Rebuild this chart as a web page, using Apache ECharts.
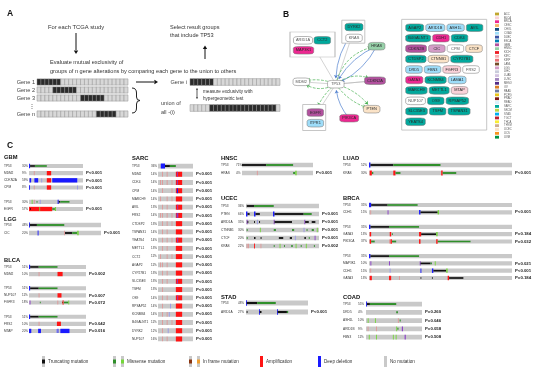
<!DOCTYPE html>
<html><head><meta charset="utf-8">
<script src="https://cdn.jsdelivr.net/npm/echarts@6/dist/echarts.min.js"></script>
<style>html,body{margin:0;padding:0;background:#fff}#c{width:553px;height:375px}</style>
</head><body><div id="c"></div>
<script>
// ================= DATA =================
// Panel A : schematic cells (1 = altered)
const cellCount = 23;
const aGenes = ['Gene 1', 'Gene 2', 'Gene 3', '\u22EE', 'Gene n'];
const aCells = ['11111100000000000000000', '00001111110000000000000', '00000000000111111000000', '', '00000000000000011111000'];
const bGenes = ['Gene i', '', '', 'union'];
const bCells = ['11111100000000000000000', '', '', '00000111111111111111110'];

// Panel B : network + gene box + cancer legend
const cancerTypes = ['ACC','BLCA','BRCA','CESC','CHOL','COAD','DLBC','ESCA','GBM','HNSC','KICH','KIRC','KIRP','LAML','LGG','LIHC','LUAD','LUSC','MESO','OV','PAAD','PCPG','PRAD','READ','SARC','SKCM','STAD','TGCT','THCA','THYM','UCEC','UCS','UVM'];
const cancerColors = ['#C1A72F','#FAD2D9','#ED2891','#F6B667','#104A7F','#9EDDF9','#3953A4','#007EB5','#B2509E','#97D1A9','#ED1C24','#F8AFB3','#EA7075','#754C29','#D49DC7','#CACCDB','#D3C3E0','#A084BD','#542C88','#D97D25','#6E7BA2','#E8C51D','#7E1918','#DAF1FC','#00A99D','#BBD642','#00AEEF','#BE1E2D','#F9ED32','#CEAC8F','#FBE3C7','#F89420','#009444'];
const netGenes  = ['TP53','MDM2','CDKN2A','PTEN','PIK3CA','HRAS','ARID1A','CCT2','MAP3K1','DYRK2','KRAS','EGFR','ITPR1'];
const netCancer = ['',    '',    'GBM',   'UCEC','BRCA',  'HNSC','',      'SARC','BRCA',  'SARC', '',    'GBM', 'COAD'];
const netEdges = [
  ['TP53','g1','gray'],['TP53','g2','gray'],['TP53','g3','gray'],['TP53','MDM2','gray'],['TP53','CDKN2A','gray'],['TP53','CDKN2A','gray'],
  ['g2','TP53','blue'],['HRAS','TP53','blue'],['HRAS','TP53','blue'],['PIK3CA','TP53','blue'],
  ['TP53','HRAS','green'],['TP53','MDM2','green'],['TP53','MDM2','green'],['TP53','CDKN2A','green'],['TP53','PTEN','green'],['TP53','PTEN','green'],['TP53','g3','green']
];
const boxRows = [['AGAP2','ARID1B','ASH1L','AVIL'],['B4GALNT1','CDH1','CDK4'],['CDKN2B','CIC','CPM','CTCF'],['CTDSP2','CTNNB1','CYP27B1'],['DRD5','FBN3','FGFR3','FRS2'],['GATA3','KCNMB4','LAMA1'],['MARCH9','METTL1','MTAP'],['NUP107','OS9','RPSAP52'],['SLC35E3','TSFM','TSPAN31'],['YEATS4']];
const boxCancer = [['SARC','COAD','COAD','SARC'],['SARC','BRCA','SARC'],['GBM','LGG','','UCEC'],['SARC','UCEC','SARC'],['COAD','COAD','BLCA',''],['BRCA','SARC','COAD'],['SARC','SARC','BLCA'],['','SARC','SARC'],['SARC','SARC','SARC'],['SARC']];

// Panel C : tracks. marks = [type, start%, end%]
const markTypes = ['bg','T','M','m','I','i','A','a','D','d','P'];

const gbmGenes = ['TP53','MDM2','CDKN2A','CPM','','TP53','EGFR'];
const gbmPct   = ['30%','9%','59%','8%','','30%','57%'];
const gbmP     = ['','P<0.001','P<0.001','P<0.001','','','P<0.001'];
const gbmMarks = [
  [['D',0,2],['T',2,11],['M',11,33]],
  [['a',9,9],['A',33,41]],
  [['D',1,4],['D',10,17],['d',23,23],['A',33,41],['D',43,89],['d',89,89]],
  [['D',0,1],['a',9,9],['A',33,41],['d',89,89]],
  null,
  [['m',5,5],['a',9,9],['M',14,14],['d',20,20],['D',53,55],['T',55,58],['M',58,75]],
  [['A',0,43],['T',2,3],['m',19,20],['M',43,48],['m',48,50]]
];
const lggGenes = ['TP53','CIC'];
const lggPct   = ['48%','20%'];
const lggP     = ['','P<0.001'];
const lggMarks = [
  [['D',0,1],['T',1,11],['M',11,49]],
  [['D',12,13],['a',49,49],['T',50,60],['M',60,67],['m',67,69]]
];
const blcaGenes = ['TP53','MDM2','','TP53','NUP107','FGFR3','','TP53','FRS2','MTAP'];
const blcaPct   = ['51%','10%','','51%','11%','18%','','51%','10%','20%'];
const blcaP     = ['','P=0.002','','','P=0.007','P=0.072','','','P=0.042','P=0.016'];
const blcaMarks = [
  [['D',0,2],['T',2,17],['M',17,50]],
  [['a',17,17],['A',50,59]],
  null,
  [['D',0,2],['T',2,17],['M',17,50]],
  [['a',17,17],['A',50,57]],
  [['P',1,1],['M',19,19],['a',50,50],['I',58,59],['A',59,60],['M',61,69],['m',69,70]],
  null,
  [['D',0,2],['T',2,17],['M',17,50]],
  [['a',17,17],['A',49,56]],
  [['D',0,4],['D',16,21],['d',48,48],['D',50,51],['D',55,71]]
];
const sarcGenes = ['TP53','MDM2','CDK4','CPM','MARCH9','AVIL','FRS2','CTDSP2','TSPAN31','YEATS4','METTL1','CCT2','AGAP2','CYP27B1','SLC35E3','TSFM','OS9','RPSAP52','KCNMB4','B4GALNT1','DYRK2','NUP107'];
const sarcPct   = ['36%','14%','14%','14%','14%','13%','14%','13%','14%','14%','13%','11%','11%','13%','13%','13%','14%','14%','14%','11%','12%','16%'];
const sarcP     = ['','P<0.001','P<0.001','P<0.001','P<0.001','P<0.001','P<0.001','P<0.001','P<0.001','P<0.001','P<0.001','P<0.001','P<0.001','P<0.001','P<0.001','P<0.001','P<0.001','P<0.001','P<0.001','P<0.001','P<0.001','P<0.001'];
const sarcMarks = [
  [['D',8,20],['T',20,34],['M',34,51]],
  [['a',12,12],['a',25,25],['A',51,69],['P',54,55]],
  [['a',6,6],['a',12,12],['a',25,25],['a',39,39],['A',51,69],['P',54,56]],
  [['a',12,12],['a',39,39],['A',51,69],['D',54,57]],
  [['a',6,6],['a',25,25],['a',39,39],['A',51,69]],
  [['a',12,12],['a',25,25],['A',51,69],['P',55,56]],
  [['a',6,6],['a',12,12],['a',25,25],['a',39,39],['A',51,69],['P',53,58]],
  [['a',12,12],['a',25,25],['a',39,39],['A',51,69]],
  [['a',12,12],['a',25,25],['A',51,69]],
  [['a',12,12],['a',25,25],['a',39,39],['A',51,69],['P',55,56]],
  [['a',12,12],['a',25,25],['A',51,69]],
  [['a',6,6],['a',25,25],['a',39,39],['A',51,69]],
  [['a',6,6],['a',12,12],['a',25,25],['A',51,69]],
  [['a',12,12],['a',25,25],['A',51,69]],
  [['a',12,12],['a',25,25],['A',51,69],['P',54,56]],
  [['a',12,12],['A',51,69]],
  [['a',12,12],['a',25,25],['A',51,69],['P',55,57]],
  [['a',12,12],['d',35,35],['A',51,69]],
  [['a',12,12],['a',25,25],['d',31,31],['A',51,69]],
  [['a',12,12],['a',25,25],['a',39,39],['A',51,69]],
  [['a',12,12],['d',28,28],['A',51,69]],
  [['a',12,12],['a',25,25],['A',51,69]]
];
const hnscGenes = ['TP53','HRAS'];
const hnscPct   = ['71%','4%'];
const hnscP     = ['','P<0.001'];
const hnscMarks = [
  [['T',0,34],['M',34,72]],
  [['a',21,21],['M',72,75],['m',75,77]]
];
const ucecGenes = ['TP53','PTEN','ARID1A','CTNNB1','CTCF','KRAS'];
const ucecPct   = ['36%','66%','35%','30%','20%','22%'];
const ucecP     = ['','P<0.001','P<0.001','P<0.001','P<0.001','P=0.002'];
const ucecMarks = [
  [['T',1,11],['M',11,38]],
  [['D',0,2],['T',2,5],['D',11,13],['T',13,19],['D',37,39],['T',39,79],['M',79,90]],
  [['P',1,1],['T',2,3],['T',11,12],['d',15,15],['T',18,19],['P',38,38],['T',39,63],['P',80,80],['T',81,86],['T',90,95]],
  [['M',1,2],['m',19,19],['M',38,41],['M',63,66],['d',79,79],['M',83,84],['M',90,93],['m',97,97]],
  [['M',1,2],['T',11,13],['T',20,21],['T',45,51],['T',60,63],['d',67,67],['T',80,82],['M',86,87],['P',94,94]],
  [['a',1,1],['a',3,3],['A',11,12],['a',20,20],['M',38,39],['m',46,46],['M',52,53],['M',62,64],['m',68,68],['M',75,76],['m',82,82],['M',93,94]]
];
const stadGenes = ['TP53','ARID1A'];
const stadPct   = ['48%','27%'];
const stadP     = ['','P<0.001'];
const stadMarks = [
  [['D',0,1],['T',1,18],['M',18,48]],
  [['T',1,2],['D',21,22],['T',22,25],['D',50,51],['T',51,66],['M',66,68]]
];
const luadGenes = ['TP53','KRAS'];
const luadPct   = ['52%','30%'];
const luadP     = ['','P<0.001'];
const luadMarks = [
  [['D',0,1],['T',1,17],['M',17,50]],
  [['A',0.5,2],['M',2,3],['A',17,18.5],['M',18.5,22],['A',50.5,51.5],['M',51.5,61]]
];
const brcaGenes = ['TP53','CDH1','','TP53','GATA3','PIK3CA','','TP53','MAP3K1','CDH1','GATA3'];
const brcaPct   = ['35%','15%','','35%','13%','37%','','35%','10%','15%','13%'];
const brcaP     = ['','P<0.001','','','P=0.184','P=0.032','','','P=0.021','P<0.001','P=0.184'];
const brcaMarks = [
  [['D',0,1.5],['T',1.5,13],['M',13,34]],
  [['a',1,1],['P',13,13.5],['D',35,36],['T',36,48],['m',48,49]],
  null,
  [['D',0,1],['T',1,14],['M',14,35]],
  [['A',0.5,1.5],['A',14.5,15.5],['M',16,16.5],['A',35,36.5],['T',36.5,47],['m',47,48]],
  [['A',0.5,1.5],['M',1.5,4],['a',14,14],['A',15,16],['M',16,19],['A',35,36],['A',47,48],['M',48,71]],
  null,
  [['D',0,1],['T',1,14],['M',14,35]],
  [['P',1,1.5],['P',14,14.5],['P',35.5,36],['T',36,43],['M',43,44],['m',46,46.5]],
  [['a',1,1],['d',14.5,14.5],['D',36,36.5],['D',44,45],['T',45,54],['m',54,55]],
  [['A',0.5,2],['A',14,15.5],['a',21,21],['T',36,36.5],['T',44,44.5],['A',55,56],['T',56,66]]
];
const coadGenes = ['TP53','DRD5','ASH1L','ARID1B','FBN3'];
const coadPct   = ['55%','4%','10%','9%','11%'];
const coadP     = ['','P=0.260','P=0.046','P=0.058','P=0.508'];
const coadMarks = [
  [['D',0,1.5],['T',1.5,7],['M',7,54]],
  [['M',54,57]],
  [['m',3,3],['m',16,16],['a',57,57],['M',60,62]],
  [['a',3,3],['a',18,18],['m',54,54],['M',56,58],['P',64,66]],
  [['m',5,5],['m',18,18],['m',48,48],['m',53,53],['P',69,71]]
];

// ================= BUILD =================
const F = 'Liberation Sans, Arial, sans-serif';
const markColor = {bg:'#c9c9c9', T:'#111111', M:'#2f8f2a', m:'#74d63a', I:'#8b3510', i:'#f0a030', A:'#ff1414', a:'#e58a8a', D:'#1a1aff', d:'#8c8cf0', P:'#8a3cc8'};
const grids = [], xAxes = [], yAxes = [], series = [], graphics = [];

function txt(x, y, s, size, opt) {
  return {type:'text', x:x, y:y, silent:true, z:10,
    style:Object.assign({text:s, fontSize:size, fontFamily:F, fill:'#333', verticalAlign:'middle', align:'left'}, opt || {})};
}
function seg(x1, y1, x2, y2, lw, c) {
  return {type:'line', silent:true, shape:{x1:x1, y1:y1, x2:x2, y2:y2}, style:{stroke:c || '#111', lineWidth:lw || 1}};
}
function curve(x1, y1, cx, cy, x2, y2) {
  return {type:'bezierCurve', silent:true, shape:{x1:x1, y1:y1, cpx1:cx, cpy1:cy, x2:x2, y2:y2}, style:{fill:null, stroke:'#222', lineWidth:1}};
}
function head(x, y, dir, s, c) {
  const pts = {down:[[x-s*0.6,y-s],[x+s*0.6,y-s],[x,y]], up:[[x-s*0.6,y+s],[x+s*0.6,y+s],[x,y]],
               right:[[x-s,y-s*0.6],[x-s,y+s*0.6],[x,y]]}[dir];
  return {type:'polygon', silent:true, shape:{points:pts}, style:{fill:c || '#111'}};
}

// ---- Panel A cells
function cellItem(params, api) {
  const p = api.coord([api.value(0), api.value(1)]);
  const s = api.size([1, 1]);
  const h = s[1] * 0.78;
  return {type:'rect', shape:{x:p[0] - s[0] / 2, y:p[1] - h / 2, width:s[0], height:h},
    style:{fill: api.value(2) ? '#2b2b2b' : '#d8d8d8', stroke:'#8c8c8c', lineWidth:0.45}};
}
function addCells(rows, cells, g, fmt) {
  const gi = grids.length;
  grids.push({left:g.left, top:g.top, width:g.width, height:g.height});
  xAxes.push({type:'category', gridIndex:gi, show:false, data:Array.from({length:cellCount}, (_, i) => String(i))});
  const yi = yAxes.length;
  yAxes.push({type:'category', gridIndex:gi, inverse:true, data:rows.map((_, i) => String(i)),
    axisLine:{show:false}, axisTick:{show:false}, splitLine:{show:false},
    axisLabel:{interval:0, margin:g.margin, fontSize:5.6, color:'#444', fontFamily:F, formatter:fmt,
      rich:{u:{fontSize:5.6, color:'#444', width:26, align:'left', lineHeight:8.5, fontFamily:F}}}});
  const data = [];
  cells.forEach((s, r) => { for (let c = 0; c < s.length; c++) data.push([c, r, +s[c]]); });
  series.push({type:'custom', xAxisIndex:gi, yAxisIndex:yi, renderItem:cellItem, data:data,
    encode:{x:0, y:1}, silent:true, clip:false, animation:false});
}
addCells(aGenes, aCells, {left:37, top:78, width:91, height:40, margin:2},
  (v, i) => aGenes[i]);
addCells(bGenes, bCells, {left:190, top:77.67, width:90, height:34.67, margin:3},
  (v, i) => i === 3 ? '{u|union of}\n{u|all -(i)}' : bGenes[i]);

// ---- Panel C tracks
function trackItem(params, api) {
  const t = markTypes[api.value(3)];
  const row = api.value(0);
  const p0 = api.coord([api.value(1), row]);
  const p1 = api.coord([api.value(2), row]);
  const band = api.size([0, 1])[1];
  const bh = band * 0.58;
  let h = bh, w = Math.max(p1[0] - p0[0], 0.9);
  if (t === 'T' || t === 'M' || t === 'I') h = bh * 0.4;
  if (t === 'a' || t === 'd') w = 0.7;
  if (t === 'A' || t === 'D') h = bh * 1.05;
  return {type:'rect', shape:{x:p0[0], y:p0[1] - h / 2, width:w, height:h}, style:{fill:markColor[t]}};
}
function addStudy(name, genes, pct, pv, marks, g) {
  const gi = grids.length;
  grids.push({left:g.left, top:g.top, width:g.width, height:g.height});
  xAxes.push({type:'value', gridIndex:gi, min:0, max:100, show:false});
  const cats = genes.map((_, i) => String(i));
  const yl = yAxes.length;
  yAxes.push({type:'category', gridIndex:gi, inverse:true, data:cats,
    axisLine:{show:false}, axisTick:{show:false}, splitLine:{show:false},
    axisLabel:{interval:0, margin:1, fontFamily:F,
      formatter:(v, i) => genes[i] ? '{g|' + genes[i] + '}{p|' + pct[i] + '}' : '',
      rich:{g:{width:g.gw, align:'left', fontSize:3.2, color:'#333', fontFamily:F},
            p:{width:g.pw, align:'left', fontSize:3.0, color:'#333', fontFamily:F}}}});
  yAxes.push({type:'category', gridIndex:gi, inverse:true, position:'right', data:cats,
    axisLine:{show:false}, axisTick:{show:false}, splitLine:{show:false},
    axisLabel:{interval:0, margin:3, fontSize:4.3, fontWeight:'bold', color:'#222', fontFamily:F,
      formatter:(v, i) => pv[i] || ''}});
  const data = [];
  marks.forEach((row, r) => {
    if (!row) return;
    data.push([r, 0, 100, 0]);
    row.forEach(m => data.push([r, m[1], m[2], markTypes.indexOf(m[0])]));
  });
  series.push({type:'custom', xAxisIndex:gi, yAxisIndex:yl, renderItem:trackItem, data:data,
    encode:{x:[1, 2], y:0}, silent:true, clip:false, animation:false});
  graphics.push(txt(g.lx, g.ly, name, 5.8, {fontWeight:'bold', fill:'#111'}));
}
addStudy('GBM',  gbmGenes,  gbmPct,  gbmP,  gbmMarks,  {left:29,  top:162.4, width:54,  height:50.2,  gw:18, pw:6, lx:4,   ly:157});
addStudy('LGG',  lggGenes,  lggPct,  lggP,  lggMarks,  {left:29,  top:221,   width:72,  height:16,    gw:18, pw:6, lx:4,   ly:219.5});
addStudy('BLCA', blcaGenes, blcaPct, blcaP, blcaMarks, {left:29,  top:263.4, width:57,  height:71.1,  gw:18, pw:6, lx:4,   ly:260});
addStudy('SARC', sarcGenes, sarcPct, sarcP, sarcMarks, {left:158, top:161.9, width:35,  height:181.2, gw:19, pw:6, lx:132, ly:158});
addStudy('HNSC', hnscGenes, hnscPct, hnscP, hnscMarks, {left:242, top:161,   width:71,  height:16,    gw:15, pw:5, lx:221, ly:158});
addStudy('UCEC', ucecGenes, ucecPct, ucecP, ucecMarks, {left:246, top:202,   width:73,  height:48,    gw:17, pw:7, lx:221, ly:198});
addStudy('STAD', stadGenes, stadPct, stadP, stadMarks, {left:246, top:298.5, width:62,  height:18,    gw:17, pw:7, lx:221, ly:297});
addStudy('LUAD', luadGenes, luadPct, luadP, luadMarks, {left:369, top:161,   width:143, height:16,    gw:18, pw:7, lx:343, ly:158});
addStudy('BRCA', brcaGenes, brcaPct, brcaP, brcaMarks, {left:369, top:201.35,width:143, height:80.3,  gw:18, pw:7, lx:343, ly:198});
addStudy('COAD', coadGenes, coadPct, coadP, coadMarks, {left:366, top:299.9, width:56,  height:41.25, gw:15, pw:7, lx:343, ly:297});

// ---- Panel B graph
const ctx = document.createElement('canvas').getContext('2d');
ctx.font = '3.9px ' + F;
function nodeW(n) { return Math.max(16.5, ctx.measureText(n).width + 5); }
function colorOf(c) { const i = cancerTypes.indexOf(c); return i < 0 ? '#ffffff' : cancerColors[i]; }
const netPos = {TP53:[335.8,84.2], MDM2:[301.3,81.8], CDKN2A:[375,80.7], PTEN:[371.7,109.2], PIK3CA:[349.2,118.2],
  HRAS:[376.7,46.2], ARID1A:[303,40.3], CCT2:[322.3,40.3], MAP3K1:[303.5,50.3], DYRK2:[354,27], KRAS:[354,38],
  EGFR:[315.3,112.5], ITPR1:[315.3,123.2]};
const boxes = [{name:'g1', c:[312.5,44.5], s:[45,25]}, {name:'g2', c:[353.3,31.7], s:[23,23]},
  {name:'g3', c:[314.2,117.5], s:[23,26]}, {name:'g4', c:[444.2,74.7], s:[85,110.7]}];
const nodes = [
  {name:'_a0', x:0, y:0, symbolSize:0, label:{show:false}},
  {name:'_a1', x:553, y:375, symbolSize:0, label:{show:false}}
];
boxes.forEach(b => nodes.push({name:b.name, x:b.c[0], y:b.c[1], symbol:'rect', symbolSize:b.s,
  itemStyle:{color:'#fff', borderColor:'#b8b8b8', borderWidth:0.8}, label:{show:false}}));
function geneNode(n, c, x, y) {
  const ci = cancerTypes.indexOf(c);
  const o = {name:n, x:x, y:y, symbol:'roundRect', symbolSize:[nodeW(n), 7.6],
    itemStyle:{color:colorOf(c), borderColor:'#7a7a7a', borderWidth:0.5},
    label:{color: c ? '#2a2a2a' : '#555'}};
  if (ci >= 0) o.category = ci;
  return o;
}
netGenes.forEach((n, i) => nodes.push(geneNode(n, netCancer[i], netPos[n][0], netPos[n][1])));
boxRows.forEach((row, r) => {
  let cx = 405.7;
  row.forEach((n, k) => {
    const w = nodeW(n);
    nodes.push(geneNode(n, boxCancer[r][k], cx + w / 2, 27.7 + r * 10.45));
    cx += w + 2.1;
  });
});
const edgeStyle = {
  gray:{color:'#b5b5b5', width:0.6, type:'solid'},
  blue:{color:'#4f7fce', width:0.7, type:'solid'},
  green:{color:'#45b04f', width:0.7, type:'dashed'}
};
const pairCount = {};
const links = netEdges.map(e => {
  const key = [e[0], e[1]].sort().join('|');
  const k = pairCount[key] = (pairCount[key] || 0) + 1;
  const curv = e[2] === 'gray' ? 0 : [0.18, -0.18, 0.32, -0.32][(k - 1) % 4];
  return {source:e[0], target:e[1], symbol:e[2] === 'gray' ? ['none', 'none'] : ['none', 'arrow'], symbolSize:[0, 3.2],
    lineStyle:Object.assign({curveness:curv, opacity:1}, edgeStyle[e[2]])};
});
series.push({type:'graph', layout:'none', left:0, top:0, width:553, height:375, roam:false, silent:true, animation:false,
  categories:cancerTypes.map((n, i) => ({name:n, itemStyle:{color:cancerColors[i]}})),
  data:nodes, links:links,
  label:{show:true, position:'inside', fontSize:3.9, fontFamily:F, color:'#333'},
  emphasis:{disabled:true}, z:3});

// ---- Static text / arrows (schematic)
graphics.push(
  txt(7, 14, 'A', 8.5, {fontWeight:'bold', fill:'#111'}),
  txt(283, 15, 'B', 8.5, {fontWeight:'bold', fill:'#111'}),
  txt(7, 146, 'C', 8.5, {fontWeight:'bold', fill:'#111'}),
  txt(48, 27, 'For each TCGA study', 5.8),
  txt(50, 62, 'Evaluate mutual exclusivity of', 5.6),
  txt(50, 71, 'groups of n gene alterations by comparing each gene to the union to others', 5.6),
  txt(170, 27, 'Select result groups', 5.6),
  txt(170, 35, 'that include TP53', 5.6),
  txt(203, 92, 'measure exclusivity with', 4.6),
  txt(203, 99, 'hypergeometric test', 4.6),
  seg(76, 33, 76, 50, 1), head(76, 54, 'down', 3.6),
  seg(136, 82, 154, 82, 1), head(158, 82, 'right', 3.6),
  seg(205, 59, 205, 49, 1), head(205, 45.5, 'up', 3.6),
  seg(197, 90, 197, 97, 0.7), head(197, 88, 'up', 1.8), head(197, 99, 'down', 1.8),
  curve(132, 88, 136.5, 88, 136.5, 93), seg(136.5, 93, 136.5, 97, 1, '#222'),
  curve(136.5, 97, 136.5, 100.5, 140, 100.5), curve(140, 100.5, 136.5, 100.5, 136.5, 104),
  seg(136.5, 104, 136.5, 108, 1, '#222'), curve(136.5, 108, 136.5, 113, 132, 113)
);

// ---- Mark legend (bottom)
function legIcon(x, inner) {
  const items = [{type:'rect', silent:true, shape:{x:x, y:356, width:3, height:11}, style:{fill: inner === 'A' || inner === 'D' ? markColor[inner] : '#c9c9c9'}}];
  if (inner && inner !== 'A' && inner !== 'D') items.push({type:'rect', silent:true, shape:{x:x, y:359.5, width:3, height:4}, style:{fill:inner}});
  return items;
}
graphics.push(
  ...legIcon(42, '#111'), txt(48, 362, 'Truncating mutation', 4.6),
  ...legIcon(113, '#2f8f2a'), ...legIcon(121, '#74d63a'), txt(127, 362, 'Missense mutation', 4.6),
  ...legIcon(189, '#8b3510'), ...legIcon(197, '#f0a030'), txt(203, 362, 'In frame mutation', 4.6),
  ...legIcon(260, 'A'), txt(266, 362, 'Amplification', 4.6),
  ...legIcon(318, 'D'), txt(324, 362, 'Deep deletion', 4.6),
  ...legIcon(384, null), txt(390, 362, 'No mutation', 4.6)
);

const chart = echarts.init(document.getElementById('c'), null, {renderer:'canvas'});
chart.setOption({
  animation:false,
  backgroundColor:'#ffffff',
  textStyle:{fontFamily:F},
  legend:{data:cancerTypes, orient:'vertical', left:495, top:12.5, itemWidth:4, itemHeight:2.8, itemGap:0.85, padding:0,
    icon:'rect', selectedMode:false, textStyle:{fontSize:2.7, lineHeight:2.8, color:'#555', fontFamily:F}},
  grid:grids, xAxis:xAxes, yAxis:yAxes, series:series, graphic:graphics
});
</script></body></html>
